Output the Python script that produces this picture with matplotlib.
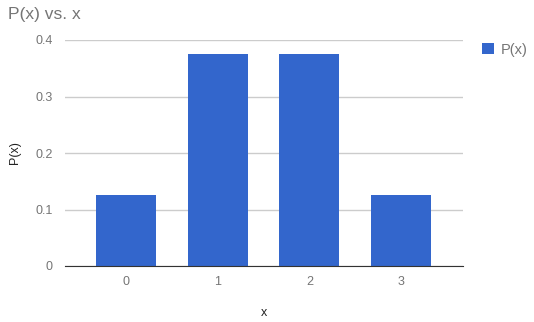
import matplotlib.pyplot as plt

# 데이터
x_labels = ['0', '1', '2', '3']
px = [0.125, 0.375, 0.375, 0.125]
y_ticks = [0, 0.1, 0.2, 0.3, 0.4]
y_tick_labels = ['0', '0.1', '0.2', '0.3', '0.4']

plt.rcParams['font.family'] = ['Liberation Sans', 'DejaVu Sans']
gray = '#757575'
blue = '#3366cc'

fig = plt.figure(figsize=(5.34, 3.22), dpi=100)
ax = fig.add_axes([65 / 534, 56 / 322, 398 / 534, 226 / 322])

pos = list(range(len(px)))
ax.bar(pos, px, width=0.655, color=blue, label='P(x)', zorder=3)

ax.set_xlim(-0.665, 3.675)
ax.set_ylim(0, 0.4)
ax.set_xticks(pos)
ax.set_xticklabels(x_labels)
ax.set_yticks(y_ticks)
ax.set_yticklabels(y_tick_labels)
ax.tick_params(length=0, colors=gray, labelsize=9)
ax.tick_params(axis='x', pad=7)
ax.tick_params(axis='y', pad=9)

# 격자선
ax.grid(axis='y', color='#cccccc', linewidth=1, zorder=0)
for s in ['top', 'right', 'left']:
    ax.spines[s].set_visible(False)
ax.spines['bottom'].set_color('#333333')
ax.spines['bottom'].set_zorder(4)

ax.set_xlabel('x', color='#222222', fontsize=9, labelpad=14)
ax.set_ylabel('P(x)', color='#222222', fontsize=9, labelpad=10)

fig.text(8 / 534, 1 - 15 / 322, 'P(x) vs. x', color=gray, fontsize=12.5, va='center')

ax.legend(loc='upper left', bbox_to_anchor=(1.015, 1.045), frameon=False,
          fontsize=10.5, labelcolor=gray, handlelength=0.8, handleheight=0.8,
          handletextpad=0.5)

fig.savefig('out.png', dpi=100)
